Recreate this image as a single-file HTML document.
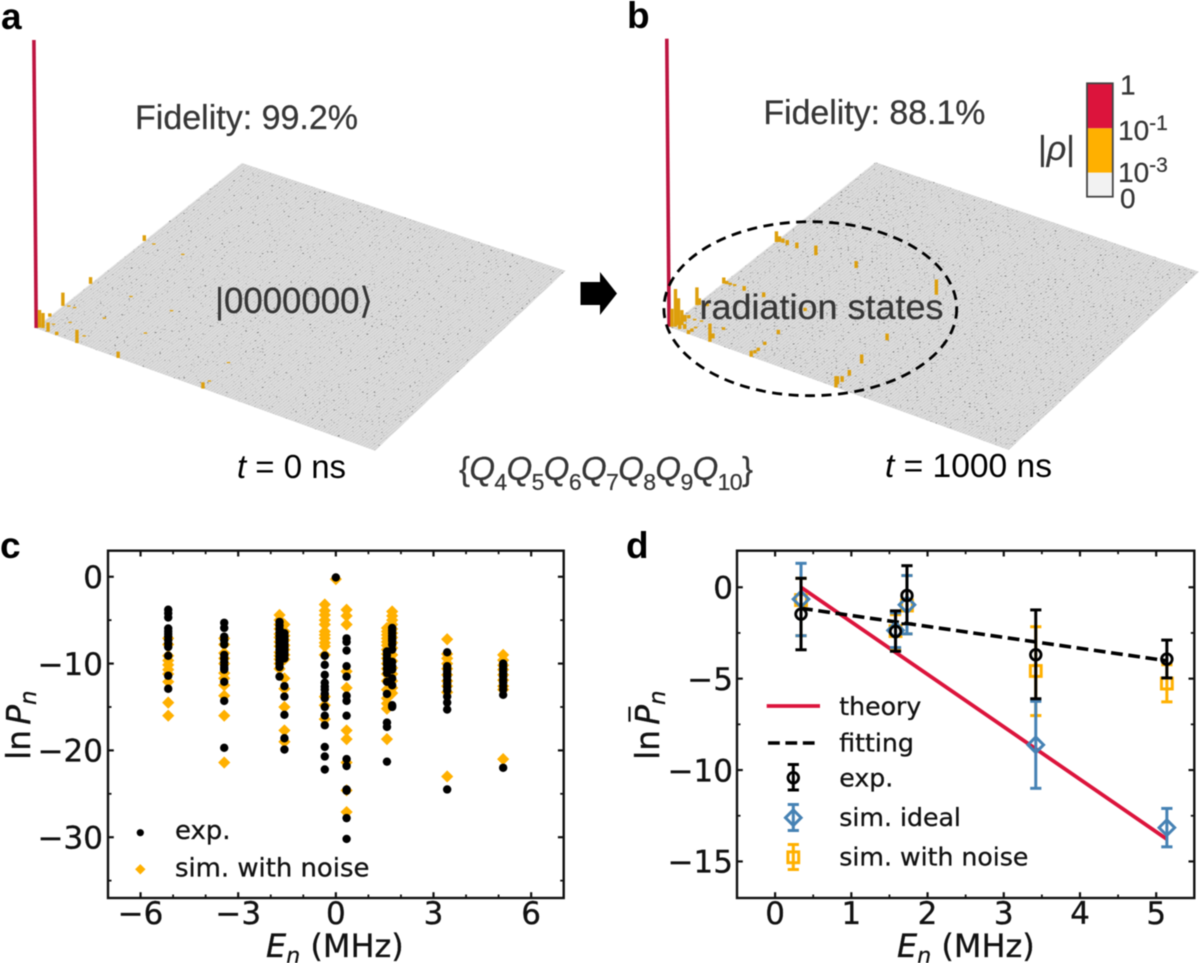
<!DOCTYPE html>
<html lang="en">
<head>
<meta charset="utf-8">
<title>Radiation states density matrices and ln P_n versus E_n</title>
<style>
html,body{margin:0;padding:0;background:#fff;width:1200px;height:963px;overflow:hidden}
svg{display:block;filter:blur(.4px)}
.cal{font-family:"Liberation Sans",sans-serif;fill:#363636;stroke:#363636;stroke-width:.25px}
.plot{font-family:"DejaVu Sans",sans-serif;fill:#111;stroke:#111;stroke-width:.3px}
.panel{font-family:"Liberation Sans",sans-serif;font-weight:bold;font-size:37px;fill:#000}
</style>
</head>
<body>
<svg id="figure" xmlns="http://www.w3.org/2000/svg" width="1200" height="963" viewBox="0 0 1200 963">
<defs>
<pattern id="hatch-a" width="1" height="1" patternUnits="userSpaceOnUse" patternTransform="matrix(1.628 -1.299 2.676 .966 35.2 328)"><rect width="1" height="1" fill="#d0d0d0"/><rect width="1" height=".45" fill="#e2e2e2"/></pattern>
<pattern id="hatch-b" width="1" height="1" patternUnits="userSpaceOnUse" patternTransform="matrix(1.633 -1.294 2.682 .971 668.1 326.7)"><rect width="1" height="1" fill="#d0d0d0"/><rect width="1" height=".45" fill="#e2e2e2"/></pattern>
<filter id="speckle-a" x="0" y="0" width="1" height="1" color-interpolation-filters="sRGB">
<feTurbulence type="fractalNoise" baseFrequency="0.42 0.62" numOctaves="1" seed="7" result="n"/>
<feColorMatrix in="n" type="matrix" values="0 0 0 0 .45  0 0 0 0 .45  0 0 0 0 .45  8 0 0 0 -5.3" result="s"/>
<feComposite in="s" in2="SourceGraphic" operator="in"/>
</filter>
<filter id="speckle-b" x="0" y="0" width="1" height="1" color-interpolation-filters="sRGB">
<feTurbulence type="fractalNoise" baseFrequency="0.42 0.62" numOctaves="1" seed="23" result="n"/>
<feColorMatrix in="n" type="matrix" values="0 0 0 0 .45  0 0 0 0 .45  0 0 0 0 .45  8 0 0 0 -5.3" result="s"/>
<feComposite in="s" in2="SourceGraphic" operator="in"/>
</filter>
</defs>

<g id="panel-a">
<polygon points="35.2,328 242,163 565.6,270.7 375,450.7" fill="url(#hatch-a)"/>
<polygon points="35.2,328 242,163 565.6,270.7 375,450.7" fill="#000" filter="url(#speckle-a)"/>
<g id="bars-a"></g>
</g>
<g id="panel-b">
<polygon points="668.1,326.7 875.5,162.3 1199,271.7 1008.7,450" fill="url(#hatch-b)"/>
<polygon points="668.1,326.7 875.5,162.3 1199,271.7 1008.7,450" fill="#000" filter="url(#speckle-b)"/>
<g id="bars-b"></g>
</g>

<text class="panel" x="1" y="29">a</text>
<text class="panel" x="627" y="28">b</text>
<text class="panel" x="0" y="558">c</text>
<text class="panel" x="626" y="558">d</text>

<text class="cal" x="135" y="129" font-size="34" textLength="223" lengthAdjust="spacingAndGlyphs">Fidelity: 99.2%</text>
<text class="cal" x="763.4" y="124" font-size="34" textLength="222" lengthAdjust="spacingAndGlyphs">Fidelity: 88.1%</text>
<text class="cal" x="215" y="313" font-size="36" textLength="158" lengthAdjust="spacingAndGlyphs">|0000000⟩</text>
<text class="cal" x="699.5" y="319" font-size="35" textLength="244" lengthAdjust="spacingAndGlyphs">radiation states</text>
<text x="237" y="478" font-family="Liberation Sans, sans-serif" font-size="33" fill="#000" textLength="109" lengthAdjust="spacingAndGlyphs"><tspan font-style="italic">t</tspan> = 0 ns</text>
<text x="885" y="477" font-family="Liberation Sans, sans-serif" font-size="33" fill="#000" textLength="167" lengthAdjust="spacingAndGlyphs"><tspan font-style="italic">t</tspan> = 1000 ns</text>
<text class="cal" x="459" y="480" font-size="33" textLength="294">{<tspan font-style="italic">Q</tspan><tspan font-size="23" dy="10">4</tspan><tspan font-style="italic" dy="-10">Q</tspan><tspan font-size="23" dy="10">5</tspan><tspan font-style="italic" dy="-10">Q</tspan><tspan font-size="23" dy="10">6</tspan><tspan font-style="italic" dy="-10">Q</tspan><tspan font-size="23" dy="10">7</tspan><tspan font-style="italic" dy="-10">Q</tspan><tspan font-size="23" dy="10">8</tspan><tspan font-style="italic" dy="-10">Q</tspan><tspan font-size="23" dy="10">9</tspan><tspan font-style="italic" dy="-10">Q</tspan><tspan font-size="23" dy="10">10</tspan><tspan dy="-10">}</tspan></text>

<polygon points="580.5,282 600,282 600,272 617,293.5 600,315 600,305 580.5,305" fill="#000"/>
<ellipse cx="810.3" cy="308.7" rx="146.4" ry="87" fill="none" stroke="#000" stroke-width="2.8" stroke-dasharray="10 6.5"/>

<g>
<rect x="1087" y="83.3" width="25.8" height="45" fill="#dc143c"/>
<rect x="1087" y="128.3" width="25.8" height="44.4" fill="#ffb000"/>
<rect x="1087" y="172.7" width="25.8" height="24" fill="#f2f2f2"/>
<rect x="1087" y="83.3" width="25.8" height="113.4" fill="none" stroke="#444" stroke-width="1.8"/>
<text class="cal" x="1120" y="94.5" font-size="28">1</text>
<text class="cal" x="1118" y="140" font-size="28">10<tspan font-size="21" dy="-10">-1</tspan></text>
<text class="cal" x="1118" y="182" font-size="28">10<tspan font-size="21" dy="-10">-3</tspan></text>
<text class="cal" x="1120" y="208" font-size="28">0</text>
<text class="cal" x="1038" y="160" font-size="34" textLength="37">|<tspan font-style="italic">ρ</tspan>|</text>
</g>

<g id="chart-c"></g>
<g id="chart-d"></g>

<text class="plot" x="266" y="957" font-size="32"><tspan font-style="italic">E</tspan><tspan font-style="italic" font-size="22" dy="6">n</tspan><tspan dy="-6"> (MHz)</tspan></text>
<text class="plot" x="897" y="957" font-size="32"><tspan font-style="italic">E</tspan><tspan font-style="italic" font-size="22" dy="6">n</tspan><tspan dy="-6"> (MHz)</tspan></text>
<text class="plot" transform="translate(30 760) rotate(-90)" font-size="33">ln<tspan font-style="italic" dx="5">P</tspan><tspan font-style="italic" font-size="23" dy="6">n</tspan></text>
<text class="plot" transform="translate(659 760) rotate(-90)" font-size="33">ln<tspan font-style="italic" dx="5">P</tspan><tspan font-style="italic" font-size="23" dy="6">n</tspan></text>
<line x1="629.5" y1="706.7" x2="629.5" y2="721.7" stroke="#111" stroke-width="2.2"/>

<text class="plot" x="175" y="839" font-size="25.9">exp.</text>
<text class="plot" x="175" y="876.7" font-size="25.9">sim. with noise</text>
<text class="plot" x="839.3" y="715" font-size="25.2">theory</text>
<text class="plot" x="839.3" y="751.7" font-size="25.2">fitting</text>
<text class="plot" x="839.3" y="786.7" font-size="25.2">exp.</text>
<text class="plot" x="839.3" y="826" font-size="25.2">sim. ideal</text>
<text class="plot" x="839.3" y="865.7" font-size="25.2">sim. with noise</text>
</svg>

<script>
// ---------- Panel a / b: density-matrix bars, [row, column, height] ----------
const populationA = 288;
const populationB = 288;
const barsA = [[1,1,17.7],[1.5,2,15],[.5,4.5,9.3],[8.8,.1,3.3],[.4,7.8,3.3],[17,0,13.3],[34,0,6.7],[67,0,5.7],[0,15.6,13.3],[0,31,6.3],[0,62.7,6.3],
[66.8,3.8,1.3],[66.6,15,1.3],[34.5,15,1.3],[34.6,30.3,1.3],[18,15,1.5],[17.7,1.8,1.3],[18,3.8,1.3],[9.3,7.4,1.2],[5.2,3.7,1.2],[4.8,15.4,1.3],[17.9,30.5,1.3],[18,61.7,1.2],[4.8,62.3,1.3]];
const barsB = [[65.7,.4,10.7],[66.3,1.2,5.7],[66.5,2.4,4.3],[66.1,4.3,5],[66.2,7.9,5.7],[66,15.3,9.7],[66.7,30.3,7],[67.4,60.6,15.3],
[33.6,.3,6],[33.8,1.3,3.3],[34,2.5,2.3],[34.3,4,2],[33.6,8,4.7],[33.9,15.2,4.7],[34.3,30.6,3.3],[34.3,61.6,6.7],
[17,.4,17.7],[17.5,1,6.7],[18.4,3.4,2.7],[17.1,30.9,4.3],[17.4,62,9],[8.9,15.3,2.7],[9,7,1.5],
[0,15.6,18.3],[2.4,15.3,5],[0,7.6,4],[1.9,7.7,3.3],[4.4,7.6,1.7],[0,31,6],[2.5,30.9,3.3],[4.4,31,3.3],[8.8,30.8,3.3],[0,62.6,11.3],[2,62,8],[4.1,62.5,5.7],[8.7,62.5,5.7],
[.7,1,18],[1.4,1.9,37.7],[2.9,2.1,26.7],[3.5,3,15],[5.9,2.7,6.7],[8.4,2.6,3.3],[8.4,4.8,1.7],[1,3.7,8],[2,5,5]];

// ---------- Panel c: scatter data ----------
const levelsC = [-5.15,-3.43,-1.73,-1.58,-0.34,0,0.33,1.57,1.73,3.42,5.14];
const simC = [
[-7.1,-7.8,-9.1,-9.65,-10.15,-10.7,-11.2,-12.1,-14.5,-16],
[-7.1,-7.8,-8.8,-9.4,-10,-11.1,-11.7,-12.5,-13.7,-16,-21.4],
[-4.4,-5,-5.5,-6,-6.6,-7,-7.5,-8,-8.7,-9.1,-9.5,-10,-10.6],
[-5.5,-6.3,-6.8,-7.3,-7.9,-8.4,-9,-9.5,-11.7,-12.9,-15,-17.7,-19],
[-3.2,-3.9,-4.4,-5,-5.5,-6.3,-6.7,-7.1,-7.6,-8,-9,-13.8,-14.8,-16.4],
[-0.27],
[-3.8,-4.5,-5.5,-10.9,-12.8,-17.7,-18.7,-21.4,-24.6,-27.1],
[-5.9,-6.3,-6.7,-7.1,-7.5,-7.9,-8.4,-8.9,-9.4,-10,-10.6,-11.2,-12,-13,-14,-14.6,-15.2,-18.7],
[-4,-4.5,-5,-5.5,-6,-6.5,-7,-7.6,-8.2,-9,-9.7,-10.5,-11.2,-12,-12.8,-13.4],
[-7.2,-8.9,-9.4,-10,-10.6,-11.3,-12,-12.6,-13.3,-23],
[-9,-9.6,-10.2,-10.7,-11.3,-11.9,-12.6,-13,-21]
];
const expC = [
[-3.8,-4.2,-4.7,-5.96,-6.3,-6.6,-6.9,-7.3,-7.7,-8.1,-9.1,-11.4,-12.9],
[-5.3,-5.9,-6.9,-7.3,-7.8,-9,-9.4,-9.8,-10.2,-10.5,-10.7,-12.1,-14.3,-19.7],
[-5.2,-5.6,-6,-6.4,-6.8,-7.2,-7.6,-8,-8.4,-8.8,-9.2,-9.6,-10,-10.4,-11.5],
[-6.5,-6.9,-7.2,-7.5,-7.8,-8.1,-8.4,-8.7,-9,-9.4,-12.6,-13.8,-15.9,-18.6,-19.9],
[-9.1,-10.15,-11.3,-12.2,-12.65,-13,-13.5,-14,-15,-16,-17.1,-19.6,-20.7,-22.2],
[-0.08],
[-7.1,-7.5,-8.5,-10.3,-11.5,-13.7,-14.3,-16,-21,-21.8,-24.5,-24.65,-27.8,-30.2],
[-8.6,-9,-9.4,-9.7,-10.1,-10.6,-11.1,-12.1,-13.5,-16.8,-17.3,-21.3],
[-5.9,-6.2,-6.5,-6.8,-7.1,-7.4,-7.8,-8.4,-9.8,-10.3,-10.7,-11.7,-12.5,-14.8,-15],
[-8.7,-10.3,-10.6,-10.9,-11.2,-11.5,-11.9,-12.3,-12.7,-13.1,-13.8,-14.5,-15.3,-24.5],
[-10,-10.3,-10.6,-10.9,-11.2,-11.5,-11.9,-12.2,-12.6,-13,-13.6,-22]
];
const xTicksC = [-6,-3,0,3,6];
const xMinorC = [-5,-4,-2,-1,1,2,4,5];
const yTicksC = [0,-10,-20,-30];
const yMinorC = [-5,-15,-25,-35];

// ---------- Panel d: averaged data ----------
const levelsD = [0.34,1.58,1.73,3.42,5.14];
const expMean = [-1.47,-2.42,-0.45,-3.69,-3.93];
const expHigh = [0.49,-1.29,1.18,-1.24,-2.89];
const expLow = [-3.42,-3.5,-2.0,-6.1,-4.96];
const idealMean = [-0.65,-2.36,-0.96,-8.62,-13.15];
const idealHigh = [1.31,-1.4,0.64,-6.24,-12.1];
const idealLow = [-2.65,-3.3,-2.55,-11.0,-14.2];
const noiseMean = [-0.7,-2.4,-1.0,-4.58,-5.27];
const noiseHigh = [0.49,-1.5,0.64,-2.16,-4.24];
const noiseLow = [-2.65,-3.4,-2.55,-7.02,-6.27];
const theoryX = [0.34,5.14];
const theoryY = [0,-13.78];
const fitX = [0.34,5.14];
const fitY = [-1.15,-4.02];
const xTicksD = [0,1,2,3,4,5];
const xMinorD = [0.5,1.5,2.5,3.5,4.5];
const yTicksD = [0,-5,-10,-15];
const yMinorD = [-2.5,-7.5,-12.5];

const NS = 'http://www.w3.org/2000/svg';
const INK = '#111';
const ORANGE = '#ffb000';
const BLUE = '#4682b4';
const RED = '#dc143c';

function make(parent, tag, attrs) {
  const el = document.createElementNS(NS, tag);
  for (const k in attrs) el.setAttribute(k, attrs[k]);
  parent.appendChild(el);
  return el;
}
function label(v) {
  return String(v).replace('-', '\u2212');
}

// ---------- 3D bars ----------
function planeProject(c, row, col) {
  const s = row / 127, t = col / 127;
  const w = [(1-s)*(1-t), s*(1-t), (1-s)*t, s*t];
  return [
    w[0]*c[0][0] + w[1]*c[1][0] + w[2]*c[2][0] + w[3]*c[3][0],
    w[0]*c[0][1] + w[1]*c[1][1] + w[2]*c[2][1] + w[3]*c[3][1]
  ];
}
function drawBars(id, corners, list, population) {
  const g = document.getElementById(id);
  const base = corners[0];
  const spike = make(g, 'line', {x1: base[0]+1, y1: base[1], x2: base[0]-1.3, y2: base[1]-population, stroke: '#bd1440', 'stroke-width': 3.6});
  
  
  list.forEach(function (b) {
    const p = planeProject(corners, b[0], b[1]);
    const bar = make(g, 'rect', {x: p[0]-1.7, y: p[1]-b[2], width: 3.4, height: b[2], fill: '#dd9f0c'});
    
    
  });
}
drawBars('bars-a', [[35.2,328],[242,163],[375,450.7],[565.6,270.7]], barsA, populationA);
drawBars('bars-b', [[668.1,326.7],[875.5,162.3],[1008.7,450],[1199,271.7]], barsB, populationB);

// ---------- Axes ----------
function makeAxes(gId, box, xDom, yDom, xTicks, xMinor, yTicks, yMinor, yLabelEnd) {
  const g = document.getElementById(gId);
  const X = function (v) { return box.l + (v - xDom[0]) / (xDom[1] - xDom[0]) * (box.r - box.l); };
  const Y = function (v) { return box.t + (yDom[1] - v) / (yDom[1] - yDom[0]) * (box.b - box.t); };
  function tickMark(x1, y1, x2, y2, w) {
    const t = make(g, 'line', {x1: x1, y1: y1, x2: x2, y2: y2, stroke: INK, 'stroke-width': w});
    
    
  }
  [[xTicks, 5.8, 2.2], [xMinor, 3.5, 1.8]].forEach(function (set) {
    set[0].forEach(function (v) {
      tickMark(X(v), box.b, X(v), box.b - set[1], set[2]);
      tickMark(X(v), box.t, X(v), box.t + set[1], set[2]);
    });
  });
  [[yTicks, 5.8, 2.2], [yMinor, 3.5, 1.8]].forEach(function (set) {
    set[0].forEach(function (v) {
      tickMark(box.l, Y(v), box.l + set[1], Y(v), set[2]);
      tickMark(box.r, Y(v), box.r - set[1], Y(v), set[2]);
    });
  });
  xTicks.forEach(function (v) {
    const t = make(g, 'text', {x: X(v), y: 924, 'text-anchor': 'middle', 'font-size': 31, class: 'plot'});
    
    
    t.textContent = label(v);
  });
  yTicks.forEach(function (v) {
    const t = make(g, 'text', {x: yLabelEnd, y: Y(v) + 11.3, 'text-anchor': 'end', 'font-size': 31, class: 'plot'});
    
    
    t.textContent = label(v);
  });
  const frame = make(g, 'rect', {x: box.l, y: box.t, width: box.r - box.l, height: box.b - box.t, fill: 'none', stroke: INK, 'stroke-width': 2.4});
  
  
  return {g: g, X: X, Y: Y};
}

function diamondPoints(cx, cy, r) {
  return (cx-r)+','+cy+' '+cx+','+(cy-r)+' '+(cx+r)+','+cy+' '+cx+','+(cy+r);
}

// ---------- Chart c ----------
const axC = makeAxes('chart-c', {l:108, r:563.7, t:550.7, b:898}, [-7,7], [-37,3], xTicksC, xMinorC, yTicksC, yMinorC, 103);
levelsC.forEach(function (e, i) {
  simC[i].forEach(function (v) {
    const d = make(axC.g, 'polygon', {points: diamondPoints(axC.X(e), axC.Y(v), 6.1), fill: ORANGE});
    
    
  });
});
levelsC.forEach(function (e, i) {
  expC[i].forEach(function (v) {
    const c = make(axC.g, 'circle', {cx: axC.X(e), cy: axC.Y(v), r: 4.2, fill: '#000'});
    
    
  });
});
const legDotC = make(axC.g, 'circle', {cx: 140.3, cy: 832.7, r: 3.6, fill: '#000'});


const legDiaC = make(axC.g, 'polygon', {points: diamondPoints(140.3, 869.3, 5.2), fill: ORANGE});



// ---------- Chart d ----------
const axD = makeAxes('chart-d', {l:737, r:1194.3, t:550.7, b:898}, [-0.5,5.5], [-17,2], xTicksD, xMinorD, yTicksD, yMinorD, 733);

function errorMark(g, cx, yTop, yBot, color) {
  const parts = [[cx, yTop, cx, yBot], [cx-5.6, yTop, cx+5.6, yTop], [cx-5.6, yBot, cx+5.6, yBot]];
  parts.forEach(function (p) {
    const l = make(g, 'line', {x1: p[0], y1: p[1], x2: p[2], y2: p[3], stroke: color, 'stroke-width': 3});
    
    
  });
}
function marker(g, kind, cx, cy, color) {
  let m;
  if (kind === 'circle') {
    m = make(g, 'circle', {cx: cx, cy: cy, r: 5.3, fill: 'none', stroke: color, 'stroke-width': 2.8});
  } else if (kind === 'diamond') {
    m = make(g, 'polygon', {points: diamondPoints(cx, cy, 7.8), fill: 'none', stroke: color, 'stroke-width': 3});
  } else {
    m = make(g, 'rect', {x: cx-5.4, y: cy-5.4, width: 10.8, height: 10.8, fill: 'none', stroke: color, 'stroke-width': 3});
  }
  
  
}
function drawSeries(kind, color, mean, high, low) {
  levelsD.forEach(function (e, i) {
    errorMark(axD.g, axD.X(e), axD.Y(high[i]), axD.Y(low[i]), color);
    marker(axD.g, kind, axD.X(e), axD.Y(mean[i]), color);
  });
}
const theoryLine = make(axD.g, 'line', {x1: axD.X(theoryX[0]), y1: axD.Y(theoryY[0]), x2: axD.X(theoryX[1]), y2: axD.Y(theoryY[1]), stroke: RED, 'stroke-width': 3.8});


drawSeries('square', ORANGE, noiseMean, noiseHigh, noiseLow);
const fitLine = make(axD.g, 'line', {x1: axD.X(fitX[0]), y1: axD.Y(fitY[0]), x2: axD.X(fitX[1]), y2: axD.Y(fitY[1]), stroke: '#000', 'stroke-width': 3.6, 'stroke-dasharray': '11.8 5.6'});


drawSeries('diamond', BLUE, idealMean, idealHigh, idealLow);
drawSeries('circle', '#000', expMean, expHigh, expLow);

const legTheory = make(axD.g, 'line', {x1: 766.7, y1: 706, x2: 820, y2: 706, stroke: RED, 'stroke-width': 3.8});


const legFit = make(axD.g, 'line', {x1: 768, y1: 743, x2: 820, y2: 743, stroke: '#000', 'stroke-width': 3.6, 'stroke-dasharray': '11.8 5.6'});


errorMark(axD.g, 793.3, 764.5, 790, '#000');
marker(axD.g, 'circle', 793.3, 777.7, '#000');
errorMark(axD.g, 793.3, 804.5, 830.5, BLUE);
marker(axD.g, 'diamond', 793.3, 817.7, BLUE);
errorMark(axD.g, 793.3, 844.5, 869.5, ORANGE);
marker(axD.g, 'square', 793.3, 857.3, ORANGE);
</script>
</body>
</html>
